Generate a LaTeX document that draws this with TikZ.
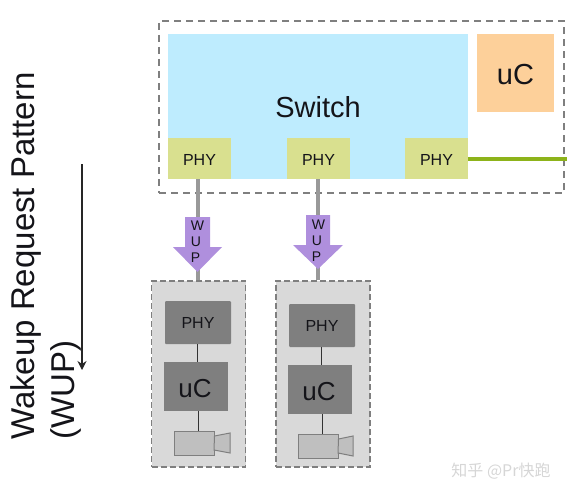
\documentclass[tikz,border=0pt]{standalone}
\usepackage{fontspec}
\setmainfont{Liberation Sans}
\newfontfamily\cjkfont{Noto Sans CJK SC}
\definecolor{switchblue}{RGB}{190,236,254}
\definecolor{cardorange}{RGB}{253,208,154}
\definecolor{phygreen}{RGB}{217,224,143}
\definecolor{linkgreen}{RGB}{141,179,26}
\definecolor{linkgray}{RGB}{153,153,153}
\definecolor{boxgray}{RGB}{217,217,217}
\definecolor{bordergray}{RGB}{127,127,127}
\definecolor{cameragray}{RGB}{191,191,191}
\definecolor{wuppurple}{RGB}{175,143,221}
\definecolor{textdark}{RGB}{20,20,25}
\usetikzlibrary{arrows.meta,positioning}
\newcommand{\lowered}[2]{\raisebox{-#1pt}[\height][\depth]{#2}}
\tikzset{
    block/.style={inner sep=0pt,align=center,text=textdark},
    phybox/.style={block,fill=phygreen,minimum width=63pt,minimum height=41pt,font=\fontsize{16}{18}\selectfont},
    nodebox/.style={block,fill=boxgray,draw=bordergray,dash pattern=on 6pt off 3pt,line width=1.2pt,minimum width=94pt,minimum height=186pt},
    nodephy/.style={block,fill=bordergray,rounded corners=1pt,minimum width=66pt,minimum height=43pt,font=\fontsize{16}{18}\selectfont},
    nodeuc/.style={block,fill=bordergray,minimum width=64pt,minimum height=49pt,font=\fontsize{26}{30}\selectfont},
    camera/.style={fill=cameragray,draw=bordergray,line width=1pt},
    wuplabel/.style={inner sep=0pt,align=left,text=textdark,font=\fontsize{14}{16}\selectfont},
    wiregray/.style={draw=linkgray,line width=4.5pt},
    wirethin/.style={draw=black!80,line width=1pt}
}
\begin{document}
\begin{tikzpicture}[x=1pt,y=-1pt]
    \useasboundingbox (0,0) rectangle (567,495);
    % top unit
    \node[block,draw=bordergray,dash pattern=on 7pt off 5pt,line width=1.2pt,minimum width=405pt,minimum height=172pt] (unit) at (361.5,107) {};
    \node[block,fill=switchblue,minimum width=300pt,minimum height=145pt,font=\fontsize{29}{32}\selectfont] (switch) at (318,106.5) {\lowered{1}{Switch}};
    \node[block,fill=cardorange,minimum width=77pt,minimum height=78pt,font=\fontsize{29}{32}\selectfont] (mcu) at (515.5,73) {\lowered{2}{uC}};
    \node[phybox] (phya) at (199.5,158.5) {\lowered{1}{PHY}};
    \node[phybox] (phyb) at (318.5,158.5) {\lowered{1}{PHY}};
    \node[phybox] (phyc) at (436.5,158.5) {\lowered{1}{PHY}};
    \coordinate (uplink) at (567,158.5);
    \draw[draw=linkgreen,line width=4pt] (phyc.east) -- (uplink);

    % lower units
    \node[nodebox] (ecua) at (198.5,374) {};
    \node[nodebox] (ecub) at (323,374) {};
    \node[nodephy] (ecuaphy) at (198,322.5) {PHY};
    \node[nodeuc] (ecuauc) at (196,386.5) {\hspace{-2pt}\lowered{2}{uC}};
    \node[nodephy] (ecubphy) at (322,325.5) {PHY};
    \node[nodeuc] (ecubuc) at (320,389.5) {\hspace{-2pt}\lowered{2}{uC}};
    \node[camera,inner sep=0pt,minimum width=40pt,minimum height=24pt] (cama) at (194,443) {};
    \node[camera,inner sep=0pt,minimum width=40pt,minimum height=24pt] (camb) at (318,446) {};
    \draw[camera] (cama.east) ++(0,-7) -- (230,433) -- (230,453) -- (214,450) -- cycle;
    \draw[camera] (camb.east) ++(0,-7) -- (353,436) -- (353,456) -- (338,453) -- cycle;
    \draw[wirethin] (ecuaphy.south -| 197,0) -- (ecuauc.north -| 197,0);
    \draw[wirethin] (ecuauc.south -| 198,0) -- (cama.north -| 198,0);
    \draw[wirethin] (ecubphy.south -| 321,0) -- (ecubuc.north -| 321,0);
    \draw[wirethin] (ecubuc.south -| 322,0) -- (camb.north -| 322,0);

    % links with the wakeup arrows on top
    \draw[wiregray] (phya.south -| 198,0) -- (ecua.north -| 198,0);
    \draw[wiregray] (phyb.south -| 318,0) -- (ecub.north -| 318,0);
    \fill[wuppurple] (185,217) -- (210,217) -- (210,247) -- (222,247) -- (197.5,272) -- (173,247) -- (185,247) -- cycle;
    \fill[wuppurple] (306,215) -- (330,215) -- (330,245) -- (343,245) -- (318,269) -- (293,245) -- (306,245) -- cycle;
    \node[wuplabel] (wupa) at (197.5,242) {W\\U\\P};
    \node[wuplabel] (wupb) at (318.5,241) {W\\U\\P};

    % side label
    \node[inner sep=0pt,rotate=90,anchor=north west,align=left,text=textdark,font=\fontsize{33}{40}\selectfont] (wuptext) at (10,440) {Wakeup Request Pattern\\(WUP)};
    \coordinate (wupstart) at (82,164);
    \coordinate (wupend) at (82,370);
    \draw[-{Stealth[length=9pt,width=9pt]},draw=black!85,line width=1.2pt] (wupstart) -- (wupend);

    % watermark
    \node[inner sep=0pt,text=black!16,font=\cjkfont\fontsize{16}{18}\selectfont] (mark) at (501,471) {知乎 @Pr快跑};
\end{tikzpicture}
\end{document}
